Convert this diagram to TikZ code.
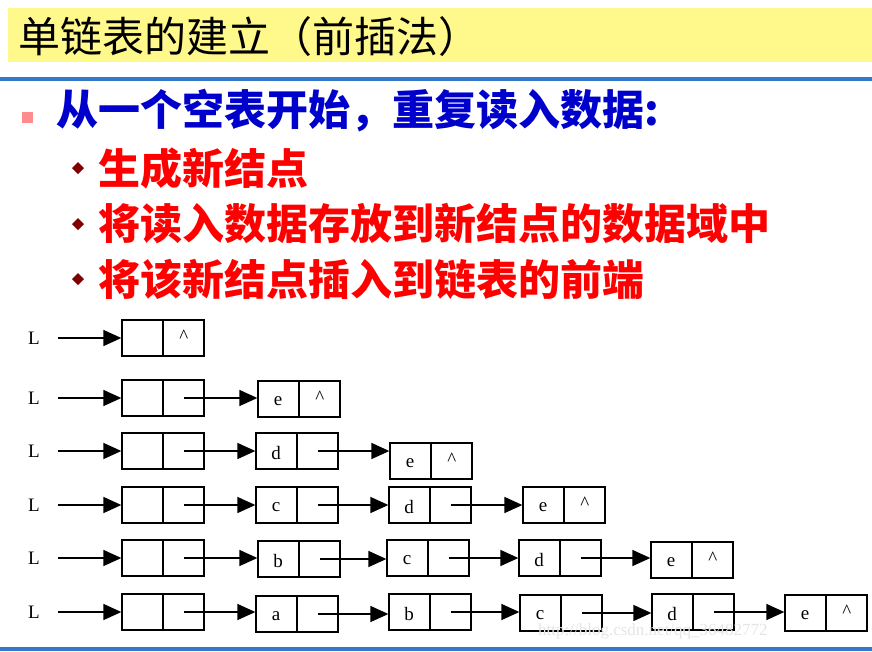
\documentclass[tikz,border=0pt]{standalone}
\usepackage{fontspec}
\setmainfont{Liberation Serif}
\newfontfamily\cjk{Noto Sans CJK SC}
\usetikzlibrary{arrows.meta,calc}
\tikzset{
  cellbox/.style={draw,line width=1.3pt,minimum width=82pt,minimum height=36pt,inner sep=0pt},
  arr/.style={line width=1.5pt,-{Triangle[length=18pt,width=16pt]}},
  lab/.style={font=\fontsize{19}{19}\selectfont,inner sep=0pt},
}
\newcommand{\lnode}[5]{%
  \node[cellbox] (#1) at (#2+41,#3+18) {};
  \draw[line width=1.3pt] (#1.north) -- (#1.south);
  \node[lab] (#1t) at ($(#1.center)!0.5!(#1.west)+(0,2)$) {#4};
  \node[lab] (#1r) at ($(#1.center)!0.5!(#1.east)+(0,-2)$) {#5};
  \coordinate (#1o) at ($(#1.center)!0.5!(#1.east)$);
}
\newcommand{\hd}[3]{%
  \node[lab,anchor=west] (L#1) at (28,#2+18) {L};
  \coordinate (Ls#1) at (58,#2+18);
  \draw[arr] (Ls#1) -- (#3.west);
}
\newcommand{\lk}[2]{\draw[arr] (#1o) -- (#1o -| #2.west);}
\begin{document}
\begin{tikzpicture}[x=1pt,y=-1pt]
\useasboundingbox (0,0) rectangle (872,651);
\fill[yellow!45!white] (8,8) rectangle (872,62);
\node[anchor=west,inner sep=0pt,font=\cjk\fontsize{42}{42}\selectfont] (title) at (18,37) {单链表的建立（前插法）};
\fill[blue!55!cyan!60!gray] (0,77) rectangle (872,81);
\fill[blue!55!cyan!60!gray] (0,647) rectangle (872,651);
\fill[red!45!white] (22,112) rectangle (33,123);
\node[anchor=west,inner sep=0pt,text=blue!80!black,font=\cjk\bfseries\fontsize{42}{42}\selectfont] (b1) at (56,111) {从一个空表开始，重复读入数据:};
\foreach \yy/\tt [count=\i] in {168/生成新结点,224/将读入数据存放到新结点的数据域中,279/将该新结点插入到链表的前端}{
  \fill[red!50!black] (78,\yy-6) -- (84,\yy) -- (78,\yy+6) -- (72,\yy) -- cycle;
  \node[anchor=west,inner sep=0pt,text=red,font=\cjk\bfseries\fontsize{42}{42}\selectfont] (s\i) at (98,\yy) {\tt};
}
% row 1
\lnode{a1}{122}{320}{}{\^{}}
\hd{1}{320}{a1}
% row 2
\lnode{a2}{122}{380}{}{}
\lnode{b2}{258}{381}{e}{\^{}}
\hd{2}{380}{a2}\lk{a2}{b2}
% row 3
\lnode{a3}{122}{433}{}{}
\lnode{b3}{256}{433}{d}{}
\lnode{c3}{390}{443}{e}{\^{}}
\hd{3}{433}{a3}\lk{a3}{b3}\lk{b3}{c3}
% row 4
\lnode{a4}{122}{487}{}{}
\lnode{b4}{256}{487}{c}{}
\lnode{c4}{389}{487}{d}{}
\lnode{d4}{523}{487}{e}{\^{}}
\hd{4}{487}{a4}\lk{a4}{b4}\lk{b4}{c4}\lk{c4}{d4}
% row 5
\lnode{a5}{122}{540}{}{}
\lnode{b5}{258}{541}{b}{}
\lnode{c5}{387}{540}{c}{}
\lnode{d5}{519}{540}{d}{}
\lnode{e5}{651}{542}{e}{\^{}}
\hd{5}{540}{a5}\lk{a5}{b5}\lk{b5}{c5}\lk{c5}{d5}\lk{d5}{e5}
% row 6
\lnode{a6}{122}{594}{}{}
\lnode{b6}{256}{596}{a}{}
\lnode{c6}{389}{594}{b}{}
\lnode{d6}{520}{595}{c}{}
\lnode{e6}{652}{594}{d}{}
\lnode{f6}{785}{595}{e}{\^{}}
\hd{6}{594}{a6}\lk{a6}{b6}\lk{b6}{c6}\lk{c6}{d6}\lk{d6}{e6}\lk{e6}{f6}
\node[anchor=west,inner sep=0pt,text=black!10,font=\fontsize{17}{17}\selectfont] (wm) at (538,631) {http://blog.csdn.net/qq\_36482772};
\end{tikzpicture}
\end{document}
